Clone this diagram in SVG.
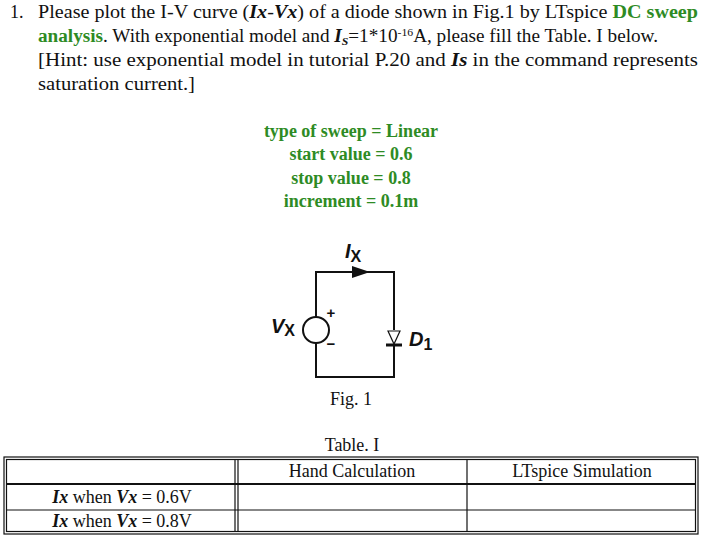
<svg xmlns="http://www.w3.org/2000/svg" width="703" height="540" viewBox="0 0 703 540">
<style>
.t{font-family:"Liberation Serif",serif;font-size:18px;fill:#111}
.g{font-family:"Liberation Serif",serif;font-size:18px;font-weight:bold;fill:#2e8b24}
.s{font-family:"Liberation Sans",Arial,sans-serif;fill:#111}
.w{stroke:#111;stroke-width:2;fill:none}
.l{stroke:#111;stroke-width:1.2;fill:none}
</style>
<rect width="703" height="540" fill="#fff"/>
<g id="question">
<text class="t" x="10" y="18">1.</text>
<text class="t" x="38" y="18" textLength="660" lengthAdjust="spacingAndGlyphs">Please plot the I-V curve (<tspan font-weight="bold" font-style="italic">Ix</tspan>-<tspan font-weight="bold" font-style="italic">Vx</tspan>) of a diode shown in Fig.1 by LTspice <tspan class="g">DC sweep</tspan></text>
<text class="t" x="38" y="42" textLength="620" lengthAdjust="spacingAndGlyphs"><tspan class="g">analysis</tspan>. With exponential model and <tspan font-weight="bold" font-style="italic">I</tspan><tspan font-weight="bold" font-style="italic" font-size="11" dy="3">S</tspan><tspan dy="-3">=1*10</tspan><tspan font-size="11" dy="-6">-16</tspan><tspan dy="6">A, please fill the Table. I below.</tspan></text>
<text class="t" x="38" y="66" textLength="660" lengthAdjust="spacingAndGlyphs">[Hint: use exponential model in tutorial P.20 and <tspan font-weight="bold" font-style="italic">Is</tspan> in the command represents</text>
<text class="t" x="38" y="90" textLength="157" lengthAdjust="spacingAndGlyphs">saturation current.]</text>
</g>
<g id="sweep" text-anchor="middle">
<text class="g" x="351" y="137">type of sweep = Linear</text>
<text class="g" x="351" y="160">start value = 0.6</text>
<text class="g" x="351" y="184">stop value = 0.8</text>
<text class="g" x="351" y="207">increment = 0.1m</text>
</g>
<g id="connectors">
<polyline class="w" points="316,317 316,272 394,272 394,330"/>
<polyline class="w" points="316,343 316,377 394,377 394,345"/>
<polygon points="352,266 370,272 352,278" fill="#111"/>
</g>
<g id="source">
<circle cx="316" cy="330" r="13" class="w"/>
<text class="s" x="331" y="318" font-size="15" font-weight="bold" text-anchor="middle">+</text>
<text class="s" x="331" y="349" font-size="15" font-weight="bold" text-anchor="middle">−</text>
<text class="s" x="271" y="333" font-size="20" font-weight="bold" font-style="italic">V<tspan font-size="16" font-style="normal" dy="3">X</tspan></text>
<text class="s" x="345" y="258" font-size="20" font-weight="bold" font-style="italic">I<tspan font-size="16" font-style="normal" dy="4">X</tspan></text>
</g>
<g id="diode">
<polygon points="388,331 400,331 394,344" class="l" stroke-width="2"/>
<line x1="386" y1="345" x2="402" y2="345" stroke="#111" stroke-width="3"/>
<text class="s" x="409" y="346" font-size="20" font-weight="bold" font-style="italic">D<tspan font-size="16" font-style="normal" dy="4">1</tspan></text>
</g>
<text class="t" x="351" y="405" text-anchor="middle">Fig. 1</text>
<g id="table">
<text class="t" x="352" y="451" text-anchor="middle">Table. I</text>
<rect x="4" y="457" width="694" height="77" class="l"/>
<rect x="6.5" y="459.5" width="689" height="72" class="l"/>
<line x1="6" y1="484" x2="696" y2="484" stroke="#111" stroke-width="1.8"/>
<line x1="6" y1="510" x2="696" y2="510" class="l"/>
<line x1="235" y1="459" x2="235" y2="532" class="l"/>
<line x1="238" y1="459" x2="238" y2="532" class="l"/>
<line x1="467" y1="459" x2="467" y2="532" class="l"/>
<text class="t" x="352" y="477" text-anchor="middle">Hand Calculation</text>
<text class="t" x="582" y="477" text-anchor="middle">LTspice Simulation</text>
<text class="t" x="122" y="503" text-anchor="middle"><tspan font-weight="bold" font-style="italic">Ix</tspan> when <tspan font-weight="bold" font-style="italic">Vx</tspan> = 0.6V</text>
<text class="t" x="122" y="527" text-anchor="middle"><tspan font-weight="bold" font-style="italic">Ix</tspan> when <tspan font-weight="bold" font-style="italic">Vx</tspan> = 0.8V</text>
</g>
</svg>
